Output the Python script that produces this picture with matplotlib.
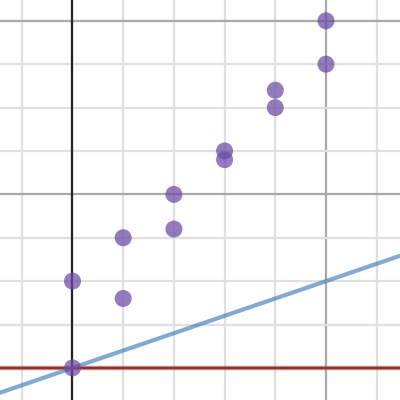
import numpy as np
import matplotlib
matplotlib.use("Agg")
import matplotlib.pyplot as plt

# datos (puntos del grafico)
xi = [0, 0, 1, 1, 2, 2, 3, 3, 4, 4, 5, 5]
yi = [2, 0, 3, 1.6, 4, 3.2, 5, 4.8, 6.4, 6, 8, 7]

# recta y = m*x + b
m = 0.4
b = 0.0
# recta horizontal
yh = 0.0

xmin, xmax = -1.43, 6.46
ymin, ymax = -0.74, 8.48

fig = plt.figure(figsize=(4, 4), dpi=100)
ax = fig.add_axes([0, 0, 1, 1])
ax.set_xlim(xmin, xmax)
ax.set_ylim(ymin, ymax)

# cuadricula
for gx in range(-1, 7):
    if gx == 0:
        continue
    c = '#a9a9a9' if gx % 5 == 0 else '#e0e0e0'
    ax.axvline(gx, color=c, lw=1.6, zorder=0)
for gy in range(0, 9):
    c = '#a9a9a9' if gy % 4 == 0 else '#e0e0e0'
    ax.axhline(gy, color=c, lw=1.6, zorder=0)

# ejes
ax.axvline(0, color='#222222', lw=1.6, zorder=1)
ax.axhline(0, color='#222222', lw=1.6, zorder=1)

# recta azul
xs = np.array([xmin, xmax])
ax.plot(xs, m*xs + b, color='#2d70b3', alpha=0.6, lw=3, zorder=2)

# recta roja
ax.axhline(yh, color='#c74440', alpha=0.6, lw=3.2, zorder=3)

# puntos
ax.scatter(xi, yi, s=150, color='#6a4aa6', alpha=0.72, edgecolors='none', zorder=4)

ax.set_xticks([])
ax.set_yticks([])
for s in ax.spines.values():
    s.set_visible(False)

fig.savefig('out.png', dpi=100)
